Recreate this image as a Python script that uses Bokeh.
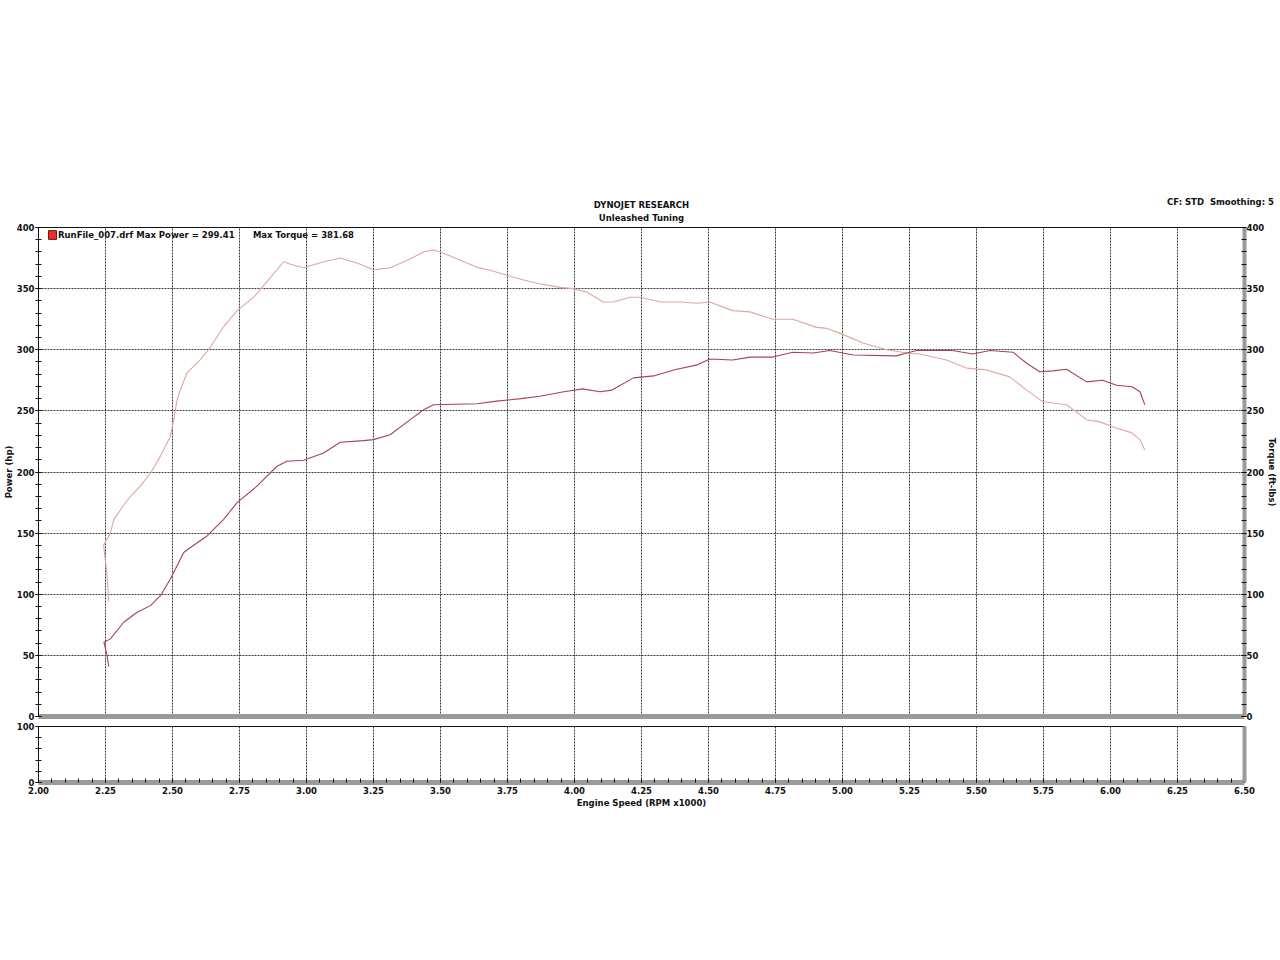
from bokeh.plotting import figure
from bokeh.models import (Range1d, LinearAxis, FixedTicker, Grid, Label, Legend,
                          LegendItem, PrintfTickFormatter)
from bokeh.layouts import column
from bokeh.embed import file_html
from bokeh.resources import INLINE

# ---------------- data ----------------
torque_rpm = [2.262, 2.255, 2.246, 2.243, 2.268, 2.281, 2.318, 2.343, 2.374, 2.418,
              2.455, 2.492, 2.505, 2.517, 2.529, 2.554, 2.604, 2.641, 2.691, 2.741,
              2.803, 2.865, 2.915, 2.940, 2.989, 3.064, 3.126, 3.188, 3.250, 3.312,
              3.375, 3.437, 3.470, 3.500, 3.547, 3.637, 3.685, 3.748, 3.810, 3.870,
              3.946, 3.995, 4.047, 4.107, 4.145, 4.207, 4.245, 4.320, 4.394, 4.457,
              4.505, 4.590, 4.655, 4.740, 4.815, 4.900, 4.940, 4.990, 5.076, 5.165,
              5.240, 5.289, 5.388, 5.463, 5.538, 5.624, 5.687, 5.748, 5.836, 5.911,
              5.960, 6.008, 6.080, 6.110, 6.128]
torque_val = [94, 118, 134, 140, 150, 161, 173, 180, 187, 199,
              213, 229, 243, 259, 267, 281, 292, 302, 319, 332,
              343, 359, 372, 370, 367, 372, 375, 371, 365.5, 367,
              373, 380, 381.7, 380, 375.6, 367.4, 365, 361, 357, 354,
              351, 350, 347, 339, 339, 343, 343, 339, 339, 338,
              339, 332, 331, 325, 325, 318.5, 317.5, 313.6, 305.5, 300,
              297.4, 296.5, 291.6, 285, 283.5, 277.8, 267, 257.4, 255, 242.8,
              241, 237, 232, 226.5, 218]

power_rpm = [2.262, 2.255, 2.244, 2.268, 2.318, 2.368, 2.418, 2.455, 2.492, 2.542,
             2.567, 2.629, 2.691, 2.741, 2.815, 2.890, 2.927, 2.989, 3.064, 3.126,
             3.213, 3.250, 3.312, 3.387, 3.437, 3.474, 3.637, 3.710, 3.800, 3.870,
             3.960, 4.030, 4.095, 4.140, 4.220, 4.295, 4.370, 4.457, 4.505, 4.590,
             4.655, 4.740, 4.815, 4.890, 4.953, 5.040, 5.200, 5.240, 5.277, 5.410,
             5.486, 5.550, 5.636, 5.687, 5.736, 5.785, 5.836, 5.911, 5.970, 6.023,
             6.080, 6.110, 6.128]
power_val = [40.7, 51, 60.8, 63.5, 77.1, 85.3, 90.7, 98.8, 112.4, 134.2,
             138.2, 147.7, 161.3, 174.9, 188.4, 204.7, 208.8, 209.6, 215.6, 224.3,
             225.7, 226.5, 230.5, 242.8, 250.9, 255, 255.8, 258, 260, 262,
             265.6, 268, 265.6, 267, 277, 278.6, 283.5, 287.6, 292.4, 291.6,
             294, 294, 298, 297.4, 299.4, 295.7, 295, 297.4, 299.4, 299.4,
             296.5, 299.4, 298, 289, 282, 282.7, 284, 273.7, 275, 271,
             269.7, 265.6, 255]

x_major = [2.00, 2.25, 2.50, 2.75, 3.00, 3.25, 3.50, 3.75, 4.00, 4.25, 4.50,
           4.75, 5.00, 5.25, 5.50, 5.75, 6.00, 6.25, 6.50]
x_minor = [round(2.0 + 0.05 * i, 2) for i in range(91)]
y_major = [0, 50, 100, 150, 200, 250, 300, 350, 400]
y_minor = list(range(0, 401, 10))
lower_major = [0, 100]
lower_minor = [0, 20, 40, 60, 80, 100]

header_1 = "DYNOJET RESEARCH"
header_2 = "Unleashed Tuning"
corner_text = "CF: STD\u00a0 Smoothing: 5"
legend_text = "RunFile_007.drf Max Power = 299.41"
torque_text = "Max Torque = 381.68"

# ---------------- styles ----------------
FONT = "DejaVu Sans"
FS = "8.5px"
TXT = "#111111"
SHADOW = "#9a9a9a"
GRID = "#3a3a3a"
TORQUE_COLOR = "#e2a5a0"
POWER_COLOR = "#a8434f"

W = 1280
ML, MR = 38, 35


def style_axis(ax, line_color="#111111", line_width=1, tin=3, tout=3):
    ax.axis_line_color = line_color
    ax.axis_line_width = line_width
    ax.major_tick_in = tin
    ax.major_tick_out = tout
    ax.minor_tick_in = tin
    ax.minor_tick_out = tout
    ax.major_tick_line_color = TXT
    ax.minor_tick_line_color = TXT
    ax.major_label_text_font = FONT
    ax.major_label_text_font_size = FS
    ax.major_label_text_font_style = "bold"
    ax.major_label_text_color = TXT
    ax.axis_label_text_font = FONT
    ax.axis_label_text_font_size = FS
    ax.axis_label_text_font_style = "bold"
    ax.axis_label_text_color = TXT


def blank_axis(line_width=5):
    ax = LinearAxis(ticker=FixedTicker(ticks=[]))
    ax.axis_line_color = SHADOW
    ax.axis_line_width = line_width
    ax.major_tick_in = 0
    ax.major_tick_out = 0
    ax.minor_tick_in = 0
    ax.minor_tick_out = 0
    ax.major_label_text_font_size = "0px"
    ax.major_label_standoff = 0
    return ax


def dotted_grid(dim, ticks):
    return Grid(dimension=dim, ticker=FixedTicker(ticks=ticks),
                grid_line_color=GRID, grid_line_dash="2 1", grid_line_width=1)


def text_label(x, y, text, align):
    return Label(x=x, y=y, text=text, text_font=FONT, text_font_size=FS,
                 text_font_style="bold", text_color=TXT,
                 text_baseline="middle", text_align=align)


x_range = Range1d(2.0, 6.5)

# ---------------- main panel ----------------
p1 = figure(width=W, height=721, x_range=x_range, y_range=Range1d(0, 400),
            output_backend="svg", toolbar_location=None,
            x_axis_location=None, y_axis_location=None,
            min_border_left=ML, min_border_right=MR,
            min_border_top=227, min_border_bottom=5)
p1.center = []
p1.outline_line_color = "#111111"
p1.outline_line_width = 1
p1.background_fill_color = "white"
p1.border_fill_color = "white"

yl = LinearAxis(ticker=FixedTicker(ticks=y_major, minor_ticks=y_minor),
                axis_label="Power (hp)")
style_axis(yl)
yl.major_label_standoff = 1
yl.axis_label_standoff = 0
p1.add_layout(yl, "left")

yr = LinearAxis(ticker=FixedTicker(ticks=y_major, minor_ticks=y_minor),
                axis_label="Torque (ft-lbs)")
style_axis(yr, line_color=SHADOW, line_width=4, tin=3, tout=2)
yr.major_label_standoff = 0
yr.axis_label_standoff = 0
p1.add_layout(yr, "right")

p1.add_layout(blank_axis(), "below")

p1.add_layout(dotted_grid(0, x_major[1:-1]))
p1.add_layout(dotted_grid(1, y_major[1:-1]))

p1.line(torque_rpm, torque_val, line_color=TORQUE_COLOR, line_width=1.1)
p1.line(power_rpm, power_val, line_color=POWER_COLOR, line_width=1.1)

# hidden renderer that only supplies the legend swatch
swatch = p1.quad(left=[min(power_rpm)], right=[max(power_rpm)],
                 bottom=[min(power_val)], top=[max(power_val)],
                 fill_color="#e8302a", line_color="#7a1414", line_width=1,
                 visible=False)
leg = Legend(items=[LegendItem(label=legend_text, renderers=[swatch])],
             location=(9, 476), orientation="vertical",
             padding=0, spacing=0, margin=0, label_standoff=1,
             glyph_width=10, glyph_height=11, label_height=11,
             border_line_color=None, background_fill_alpha=0,
             label_text_font=FONT, label_text_font_size=FS,
             label_text_font_style="bold", label_text_color=TXT,
             label_text_baseline="middle")
p1.add_layout(leg)

p1.add_layout(text_label(2.80, 394.0, torque_text, "left"))
p1.add_layout(text_label(4.25, 418, header_1, "center"), "above")
p1.add_layout(text_label(4.25, 408, header_2, "center"), "above")
p1.add_layout(text_label(6.61, 420.5, corner_text, "right"), "above")

# ---------------- lower panel ----------------
p2 = figure(width=W, height=89, x_range=x_range, y_range=Range1d(0, 100),
            output_backend="svg", toolbar_location=None,
            x_axis_location=None, y_axis_location=None,
            min_border_left=ML, min_border_right=MR,
            min_border_top=5, min_border_bottom=26)
p2.center = []
p2.outline_line_color = "#111111"
p2.outline_line_width = 1
p2.background_fill_color = "white"
p2.border_fill_color = "white"

yl2 = LinearAxis(ticker=FixedTicker(ticks=lower_major, minor_ticks=lower_minor))
style_axis(yl2)
yl2.major_label_standoff = 1
p2.add_layout(yl2, "left")

xb = LinearAxis(ticker=FixedTicker(ticks=x_major, minor_ticks=x_minor),
                axis_label="Engine Speed (RPM x1000)",
                formatter=PrintfTickFormatter(format="%.2f"))
style_axis(xb, line_color=SHADOW, line_width=5, tin=4, tout=0)
xb.major_label_standoff = 4
xb.axis_label_standoff = 1
p2.add_layout(xb, "below")

p2.add_layout(blank_axis(4), "right")
p2.add_layout(dotted_grid(0, x_major[1:-1]))

layout = column(p1, p2, spacing=0)

open("out.html", "w").write(file_html(layout, INLINE))
